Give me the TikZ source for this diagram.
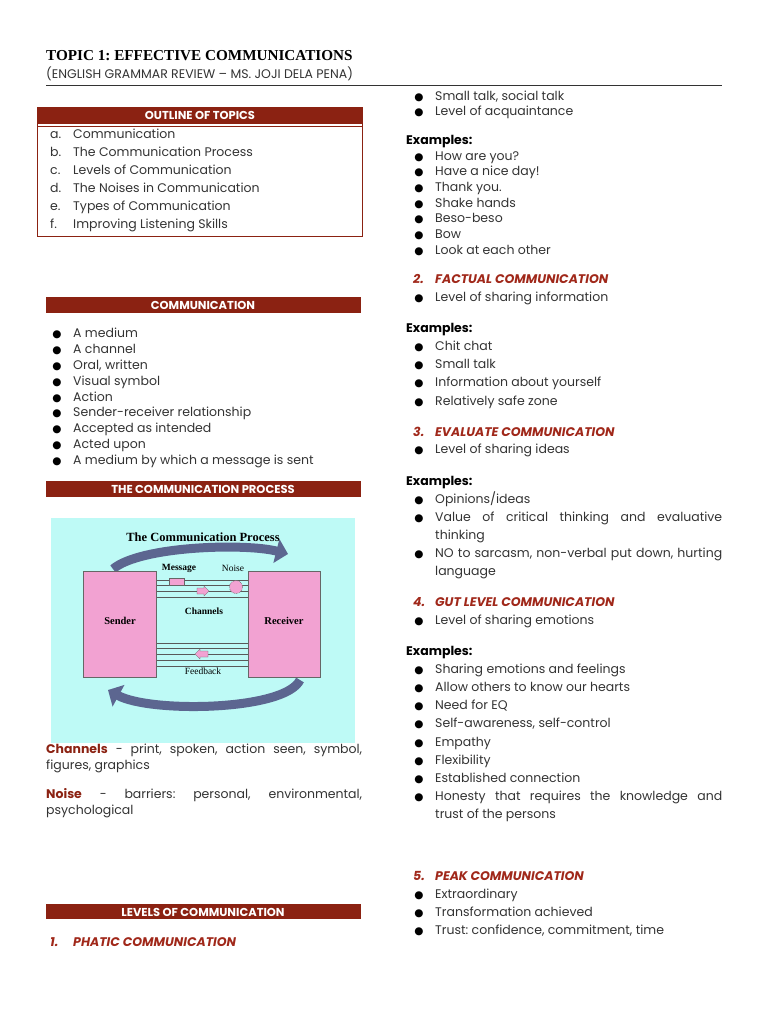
\documentclass[tikz,border=0pt]{standalone}
\usepackage{fontspec}
\setmainfont{Poppins}
\newfontfamily\titlefont{Liberation Serif}
\newfontfamily\dejavu{DejaVu Sans}
\usetikzlibrary{arrows.meta,shapes.geometric}
\frenchspacing
\definecolor{hdr}{HTML}{8B2212}
\definecolor{redt}{HTML}{A0281A}
\definecolor{txt}{HTML}{333333}
\definecolor{cyanbg}{HTML}{BEFAF6}
\definecolor{pinkb}{HTML}{F2A2D2}
\definecolor{arrc}{HTML}{5C6690}
\tikzset{
 t/.style={anchor=base west,inner sep=0pt,font=\fontsize{12.5}{15}\selectfont,text=txt},
 bul/.style={anchor=base,inner sep=0pt,font=\dejavu\fontsize{10.5}{13}\selectfont},
 hbar/.style={fill=hdr,draw=none},
 htext/.style={text=white,font=\bfseries\fontsize{11.5}{13}\selectfont,inner sep=0pt,anchor=base},
 red/.style={t,text=redt,font=\bfseries\itshape\fontsize{12.5}{15}\selectfont},
 exm/.style={t,text=black,font=\bfseries\fontsize{12.5}{15}\selectfont},
 dlab/.style={font=\titlefont\bfseries\fontsize{10.5}{12}\selectfont,inner sep=0pt},
 dlabn/.style={font=\titlefont\fontsize{10.5}{12}\selectfont,inner sep=0pt},
}
\newcommand{\jb}[1]{\makebox[287pt][s]{#1}}
\newcommand{\jl}[1]{\makebox[316pt][s]{#1}}
\begin{document}
\begin{tikzpicture}[x=1pt,y=-1pt]
\useasboundingbox (0,0) rectangle (768,1024);
% header
\node[anchor=base west,inner sep=0pt,font=\titlefont\bfseries\fontsize{15.2}{18}\selectfont] (title) at (46,61) {TOPIC 1: EFFECTIVE COMMUNICATIONS};
\node[t] (sub) at (46,78.5) {(ENGLISH GRAMMAR REVIEW – MS. JOJI DELA PENA)};
\draw[line width=0.8pt,black!80] (46,85) -- (722,85);
% outline
\draw[hdr,line width=0.8pt] (37,107) rectangle (362,236);
\fill[hdr] (37,107) rectangle (362,124);
\draw[hdr,line width=0.6pt] (37,126.5) -- (362,126.5);
\node[htext] (oh) at (200,120) {OUTLINE OF TOPICS};
\foreach \l/\s [count=\i from 0] in {a./Communication,b./The Communication Process,c./Levels of Communication,d./The Noises in Communication,e./Types of Communication,f./Improving Listening Skills}{
 \node[t] (ol\i) at (50,138.5+18*\i) {\l};
 \node[t] (ot\i) at (73,138.5+18*\i) {\s};
}
% communication
\fill[hbar] (46,297) rectangle (361,313);
\node[htext] (ch) at (203,309.5) {COMMUNICATION};
\foreach \s/\y [count=\i] in {A medium/333,A channel/349,{Oral, written}/365,Visual symbol/381,Action/397,Sender-receiver relationship/412,Accepted as intended/428,Acted upon/444,A medium by which a message is sent/460}{
 \node[bul] (cb\i) at (57,\y+4.5) {●};
 \node[t] (ct\i) at (73,\y+4.5) {\s};
}
\fill[hbar] (46,481) rectangle (361,497);
\node[htext] (ph) at (203,493.5) {THE COMMUNICATION PROCESS};
% diagram
\fill[cyanbg] (51,518) rectangle (355,743);
\draw[arrc,line width=9pt,-{Triangle[length=12pt,width=24pt]}] (113,569) .. controls (140,546) and (245,543) .. (288,554);
\draw[arrc,line width=9pt,-{Triangle[length=12pt,width=24pt]}] (300,680) .. controls (285,711) and (150,713) .. (108,690);
\node[dlab,font=\titlefont\bfseries\fontsize{12.5}{14}\selectfont] (dt) at (203,537) {The Communication Process};
\foreach \y in {580,585,591,597,643,648,654,660,666}{\draw[gray!70!black,line width=0.4pt] (156,\y) -- (248,\y);}
\draw[black!60,fill=pinkb,line width=0.4pt] (83,571) rectangle (156,677);
\draw[black!60,fill=pinkb,line width=0.4pt] (248,571) rectangle (320,677);
\node[dlab] (snd) at (120,621) {Sender};
\node[dlab] (rcv) at (284,621) {Receiver};
\node[dlab,font=\titlefont\bfseries\fontsize{9.5}{11}\selectfont] (msg) at (179,568) {Message};
\draw[black!60,fill=pinkb,line width=0.3pt] (169,578) rectangle (184,585);
\node[dlabn,font=\titlefont\fontsize{9.5}{11}\selectfont] (noi) at (233,568) {Noise};
\draw[black!60,fill=pinkb,densely dotted,line width=0.6pt] (236,587) circle (6.5);
\draw[black!60,fill=pinkb,line width=0.3pt] (197,588) -- (204,588) -- (204,586) -- (209,591) -- (204,596) -- (204,594) -- (197,594) -- cycle;
\node[dlab,font=\titlefont\bfseries\fontsize{9.5}{11}\selectfont] (chn) at (204,611) {Channels};
\draw[black!60,fill=pinkb,line width=0.3pt] (208,651) -- (200,651) -- (200,649) -- (195,654) -- (200,659) -- (200,657) -- (208,657) -- cycle;
\node[dlabn,font=\titlefont\fontsize{9.5}{11}\selectfont] (fb) at (203,671) {Feedback};
% channels/noise
\node[t] (chp) at (46,753.5) {\jl{\textcolor{hdr}{\bfseries Channels} - print, spoken, action seen, symbol,}};
\node[t] (chp2) at (46,769.5) {figures, graphics};
\node[t] (nop) at (46,798.5) {\jl{\textcolor{hdr}{\bfseries Noise} - barriers: personal, environmental,}};
\node[t] (nop2) at (46,814.5) {psychological};
\fill[hbar] (46,904) rectangle (361,919);
\node[htext] (lh) at (203,916) {LEVELS OF COMMUNICATION};
\node[red] (n1) at (50,946.5) {1.};
\node[red] (l1) at (73,946.5) {PHATIC COMMUNICATION};
% right column
\foreach \s/\y [count=\i] in {{Small talk, social talk}/96,Level of acquaintance/111,How are you?/156,Have a nice day!/171,Thank you./187,Shake hands/203,Beso-beso/218,Bow/234,Look at each other/250,Level of sharing information/297,Chit chat/346,Small talk/364,Information about yourself/382,Relatively safe zone/401,Level of sharing ideas/449,{Opinions/ideas}/499,Level of sharing emotions/620,Sharing emotions and feelings/669,Allow others to know our hearts/687,Need for EQ/705,{Self-awareness, self-control}/723,Empathy/742,Flexibility/760,Established connection/778,Extraordinary/894,Transformation achieved/912,{Trust: confidence, commitment, time}/930}{
 \node[bul] (rb\i) at (419,\y+4.5) {●};
 \node[t] (rt\i) at (435,\y+4.5) {\s};
}
\node[bul] (rv) at (419,521.5) {●};
\node[t] (rvt) at (435,521.5) {\jb{Value of critical thinking and evaluative}};
\node[t] (rvt2) at (435,539.5) {thinking};
\node[bul] (rn) at (419,557.5) {●};
\node[t] (rnt) at (435,557.5) {\jb{NO to sarcasm, non-verbal put down, hurting}};
\node[t] (rnt2) at (435,575.5) {language};
\node[bul] (rh) at (419,800.5) {●};
\node[t] (rht) at (435,800.5) {\jb{Honesty that requires the knowledge and}};
\node[t] (rht2) at (435,818.5) {trust of the persons};
\foreach \y [count=\i] in {140,328,481,651}{\node[exm] (ex\i) at (406,\y+4.5) {Examples:};}
\foreach \n/\s/\y in {2./FACTUAL COMMUNICATION/279,3./EVALUATE COMMUNICATION/432,4./GUT LEVEL COMMUNICATION/602,5./PEAK COMMUNICATION/876}{
 \node[red] at (413,\y+4.5) {\n};
 \node[red] at (435,\y+4.5) {\s};
}
\end{tikzpicture}
\end{document}
